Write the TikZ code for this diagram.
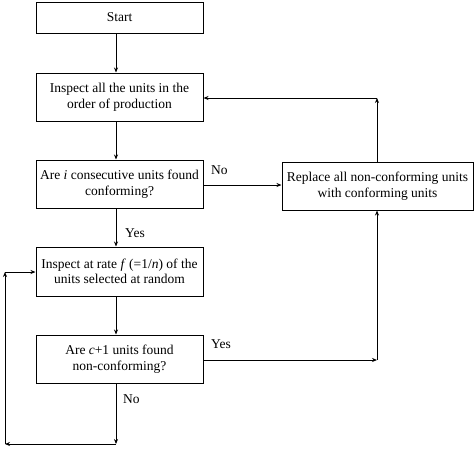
\documentclass[tikz,border=0pt]{standalone}
\usepackage{fontspec}
\setmainfont{Liberation Serif}
\usetikzlibrary{arrows.meta}
\begin{document}
\begin{tikzpicture}[x=1pt,y=-1pt,
  box/.style={draw, line width=1pt, rectangle, align=center, inner sep=0pt,
    font=\fontsize{13.5}{15.5}\selectfont},
  arr/.style={line width=0.8pt, -{Stealth[length=5pt,width=4pt]}},
  lab/.style={font=\fontsize{13.5}{15.5}\selectfont, inner sep=0pt}]
\useasboundingbox (0,0) rectangle (474,448);
\node[box, minimum width=167pt, minimum height=31pt] (start) at (119.5,17.5) {Start};
\node[box, minimum width=167pt, minimum height=48pt] (insp) at (119.5,97) {Inspect all the units in the\\order of production};
\node[box, minimum width=167pt, minimum height=48pt] (arei) at (119.5,184) {Are \textit{i} consecutive units found\\conforming?};
\node[box, minimum width=191pt, minimum height=48pt] (repl) at (377.5,186) {Replace all non-conforming units\\with conforming units};
\node[box, minimum width=167pt, minimum height=49pt] (rate) at (119.5,271.5) {Inspect at rate \textit{f} (=1/\textit{n}) of the\\units selected at random};
\node[box, minimum width=167pt, minimum height=48pt] (arec) at (119.5,359) {Are \textit{c}+1 units found\\non-conforming?};
\coordinate (cx) at (116,0);
\coordinate (rx) at (377,0);
\coordinate (ul) at (5,272);
\coordinate (bl) at (5,444);
\coordinate (br) at (116,444);
\coordinate (tr) at (377,98);
\coordinate (yr) at (377,360);
% main column
\draw[arr] (start.south -| cx) -- (insp.north -| cx);
\draw[arr] (insp.south -| cx) -- (arei.north -| cx);
\draw[arr] (arei.south -| cx) -- (rate.north -| cx);
\draw[arr] (rate.south -| cx) -- (arec.north -| cx);
% No branch
\draw[arr] (arei.east |- 0,185) -- (repl.west |- 0,185);
% loop back to top
\draw[arr] (repl.north -| rx) -- (tr);
\draw[arr] (tr) -- (insp.east |- tr);
% Yes branch from c+1
\draw[arr] (arec.east |- yr) -- (yr);
\draw[arr] (yr) -- (repl.south -| rx);
% No loop from c+1
\draw[arr] (arec.south -| cx) -- (br);
\draw[arr] (br) -- (bl);
\draw[arr] (bl) -- (ul);
\draw[arr] (ul) -- (rate.west |- ul);
% labels
\node[lab, anchor=west] (l1) at (211,170) {No};
\node[lab, anchor=west] (l2) at (125,233) {Yes};
\node[lab, anchor=west] (l3) at (211,344) {Yes};
\node[lab, anchor=west] (l4) at (123,399) {No};
\end{tikzpicture}
\end{document}
